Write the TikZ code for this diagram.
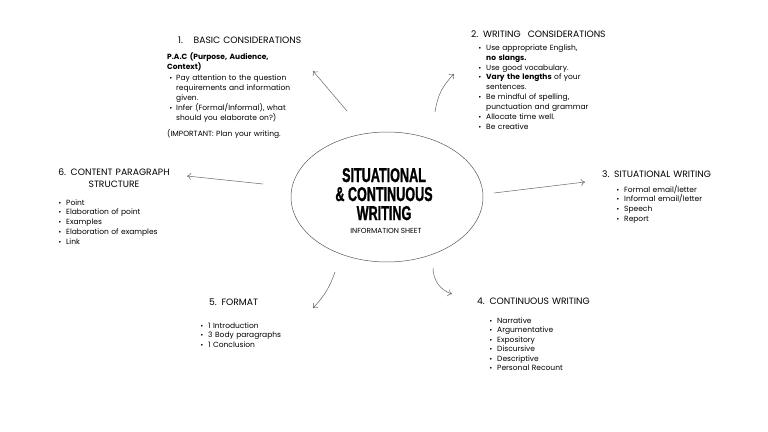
\documentclass[tikz,border=0pt]{standalone}
\usepackage{fontspec}
\setmainfont{Poppins}
\newfontfamily\titlefont[FakeBold=1.5]{Liberation Sans}
\newfontfamily\symfont{DejaVu Sans}
\usetikzlibrary{arrows.meta,shapes.geometric}
\newcommand{\dotb}{{\symfont\fontsize{6}{6}\selectfont •}}
\newcommand{\bul}{\makebox[8pt][l]{\dotb}}
\newcommand{\bulb}{\makebox[7pt][l]{\dotb}}
\newcommand{\ind}{\hspace*{8pt}}
\newcommand{\indb}{\hspace*{7pt}}
\tikzset{
  blk/.style={inner sep=0pt, anchor=north west, yshift=7pt, text width=200pt, align=left,
    execute at begin node={\rule{0pt}{7pt}}, text=black},
  body/.style={blk, font=\fontsize{7.5}{#1}\selectfont},
  head/.style={blk, font=\fontsize{9.2}{13}\selectfont},
  ttl/.style={inner sep=0pt, anchor=base, text height=14pt, text depth=0pt,
    font=\titlefont\bfseries\fontsize{20}{20}\selectfont},
  conn/.style={draw=black!60, line width=0.5pt, -{To[length=4pt,width=7pt]}},
}
\begin{document}
\begin{tikzpicture}[x=1pt,y=-1pt]
\useasboundingbox (0,0) rectangle (768,431);
\fill[white] (0,0) rectangle (768,431);
% central ellipse
\node[draw=black!65, line width=0.5pt, ellipse, minimum width=192pt, minimum height=130pt, inner sep=0pt] (c) at (387,197) {};
\node[ttl] (t1) at (384,182) {\scalebox{0.63}[1]{SITUATIONAL}};
\node[ttl] (t2) at (384,201) {\scalebox{0.63}[1]{\& CONTINUOUS}};
\node[ttl] (t3) at (384,220) {\scalebox{0.63}[1]{WRITING}};
\node[inner sep=0pt, anchor=base, font=\fontsize{7.3}{8}\selectfont, text=black] (t4) at (386,233) {INFORMATION SHEET};

% 1
\node[head] (h1) at (178,43) {1.\hspace{6pt} BASIC CONSIDERATIONS};
\node[body=10.5, font=\bfseries\fontsize{7.5}{10.5}\selectfont] (pac) at (167,59) {\makebox[136pt][s]{P.A.C (Purpose, Audience,}\\Context)};
\node[body=10] (b1) at (169,80) {\bulb Pay attention to the question\\
\indb requirements and information\\
\indb given.\\
\bulb\makebox[125pt][s]{Infer (Formal/Informal), what}\\
\indb should you elaborate on?)};
\node[body=10] (imp) at (167,136) {(IMPORTANT: Plan your writing.};

% 2
\node[head] (h2) at (471,37) {2. WRITING\hspace{4pt} CONSIDERATIONS};
\node[body=9.9] (b2) at (478,50) {\bul\makebox[104pt][s]{Use appropriate English,}\\
\ind\textbf{no slangs.}\\
\bul Use good vocabulary.\\
\bul\makebox[104pt][s]{\textbf{Vary the lengths} of your}\\
\ind sentences.\\
\bul\makebox[104pt][s]{Be mindful of spelling,}\\
\ind punctuation and grammar\\
\bul Allocate time well.\\
\bul Be creative};

% 3
\node[head] (h3) at (602,177) {3. SITUATIONAL WRITING};
\node[body=9.7] (b3) at (616,192) {\bul Formal email/letter\\
\bul Informal email/letter\\
\bul Speech\\
\bul Report};

% 4
\node[head] (h4) at (477,304) {4. CONTINUOUS WRITING};
\node[body=9.5] (b4) at (489,323) {\bul Narrative\\
\bul Argumentative\\
\bul Expository\\
\bul Discursive\\
\bul Descriptive\\
\bul Personal Recount};

% 5
\node[head] (h5) at (209,305) {5. FORMAT};
\node[body=9.5] (b5) at (200,328) {\bul 1 Introduction\\
\bul 3 Body paragraphs\\
\bul 1 Conclusion};

% 6
\node[head, anchor=north, text width=160pt, align=center, font=\fontsize{9.2}{12.5}\selectfont] (h6) at (114,175) {6. CONTENT PARAGRAPH\\STRUCTURE};
\node[body=9.75] (b6) at (58,205) {\bul Point\\
\bul Elaboration of point\\
\bul Examples\\
\bul Elaboration of examples\\
\bul Link};

% connectors
\coordinate (a1s) at (347,111); \coordinate (a1e) at (313,71);
\coordinate (a2s) at (435,112); \coordinate (a2e) at (454,74);
\coordinate (a3s) at (494,193); \coordinate (a3e) at (585,182);
\coordinate (a4s) at (433,268); \coordinate (a4e) at (452,294);
\coordinate (a5s) at (335,272); \coordinate (a5e) at (313,308);
\coordinate (a6s) at (263,184); \coordinate (a6e) at (187,176);
\draw[conn] (a1s) -- (a1e);
\draw[conn] (a2s) to[bend left=18] (a2e);
\draw[conn] (a3s) -- (a3e);
\draw[conn] (a4s) to[bend right=35] (a4e);
\draw[conn] (a5s) to[bend left=12] (a5e);
\draw[conn] (a6s) -- (a6e);
\end{tikzpicture}
\end{document}
